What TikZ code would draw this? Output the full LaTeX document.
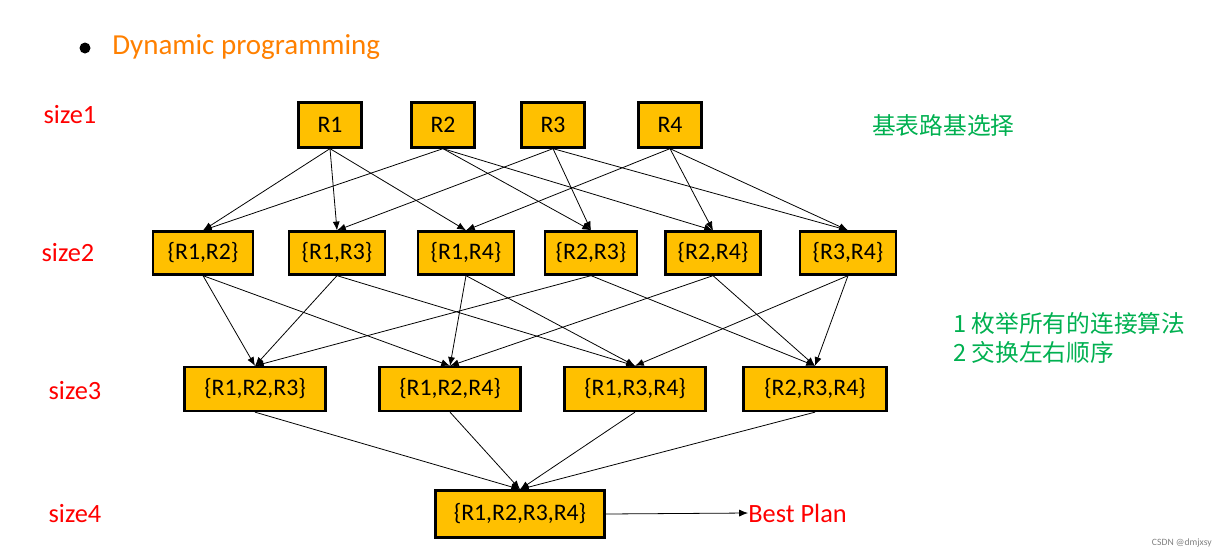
\documentclass[tikz,border=0pt]{standalone}
\usepackage{fontspec}
\setmainfont{Carlito}
\newfontfamily\cjk{Noto Sans CJK SC}
\usetikzlibrary{arrows.meta}
\definecolor{boxfill}{RGB}{255,192,0}
\definecolor{sizered}{RGB}{255,0,0}
\definecolor{dpor}{RGB}{255,128,0}
\definecolor{grn}{RGB}{0,176,80}
\begin{document}
\begin{tikzpicture}[x=0.02cm,y=-0.02cm,
  box/.style={draw=black,line width=1.3pt,fill=boxfill,inner sep=0pt,font=\fontsize{13.5}{14}\selectfont},
  b1/.style={box,minimum width=63*0.02cm,minimum height=45*0.02cm},
  b2/.style={box,minimum height=43*0.02cm},
  lab/.style={text=sizered,font=\fontsize{15}{16}\selectfont},
  edge/.style={-{Latex[length=5pt,width=4pt]},line width=0.45pt},
  gr/.style={text=grn,font=\cjk\fontsize{13.5}{16}\selectfont,anchor=west}]
\useasboundingbox (0,0) rectangle (1231,559);
% header
\fill (85,48) circle (5.5);
\node[anchor=west,text=dpor,font=\fontsize{16.5}{18}\selectfont,inner sep=0] (title) at (112,47) {Dynamic programming};
% size labels
\node[lab] (s1) at (70,115) {size1};
\node[lab] (s2) at (68,253) {size2};
\node[lab] (s3) at (75,391) {size3};
\node[lab] (s4) at (75,514) {size4};
% level 1
\node[b1] (a1) at (330,125) {R1};
\node[b1] (a2) at (443,125) {R2};
\node[b1] (a3) at (553,125) {R3};
\node[b1] (a4) at (670,125) {R4};
% level 2
\node[b2,minimum width=100*0.02cm] (b12) at (203,253) {\{R1,R2\}};
\node[b2,minimum width=96*0.02cm] (b13) at (337,253) {\{R1,R3\}};
\node[b2,minimum width=96*0.02cm] (b14) at (466,253) {\{R1,R4\}};
\node[b2,minimum width=92*0.02cm] (b23) at (591,253) {\{R2,R3\}};
\node[b2,minimum width=95*0.02cm] (b24) at (713,253) {\{R2,R4\}};
\node[b2,minimum width=96*0.02cm] (b34) at (848,253) {\{R3,R4\}};
% level 3
\node[b2,minimum width=141*0.02cm,minimum height=44*0.02cm] (c123) at (255,389) {\{R1,R2,R3\}};
\node[b2,minimum width=141*0.02cm,minimum height=44*0.02cm] (c124) at (450,389) {\{R1,R2,R4\}};
\node[b2,minimum width=141*0.02cm,minimum height=44*0.02cm] (c134) at (635,389) {\{R1,R3,R4\}};
\node[b2,minimum width=143*0.02cm,minimum height=44*0.02cm] (c234) at (815,389) {\{R2,R3,R4\}};
% level 4
\node[b2,minimum width=169*0.02cm,minimum height=47*0.02cm] (d) at (520,514) {\{R1,R2,R3,R4\}};
\node[anchor=west,text=sizered,font=\fontsize{15}{16}\selectfont,inner sep=0] (best) at (748,513) {Best Plan};
\draw[edge] (d.east) -- (best.west);
% edges 1->2
\foreach \s/\t in {a1/b12,a1/b13,a1/b14,a2/b12,a2/b23,a2/b24,a3/b13,a3/b23,a3/b34,a4/b14,a4/b24,a4/b34}
  \draw[edge] (\s.south) -- (\t.north);
% edges 2->3
\foreach \s/\t in {b12/c123,b12/c124,b13/c123,b13/c134,b14/c124,b14/c134,b23/c123,b23/c234,b24/c124,b24/c234,b34/c134,b34/c234}
  \draw[edge] (\s.south) -- (\t.north);
% edges 3->4
\foreach \s in {c123,c124,c134,c234}
  \draw[edge] (\s.south) -- (d.north);
% green notes
\node[gr] (g1) at (866,125) {基表路基选择};
\node[gr] (g2) at (947,323) {1 枚举所有的连接算法};
\node[gr] (g3) at (947,352) {2 交换左右顺序};
\node[anchor=east,text=gray,font=\fontsize{5.5}{6}\selectfont] (wm) at (1218,543) {CSDN @dmjxsy};
\end{tikzpicture}
\end{document}
